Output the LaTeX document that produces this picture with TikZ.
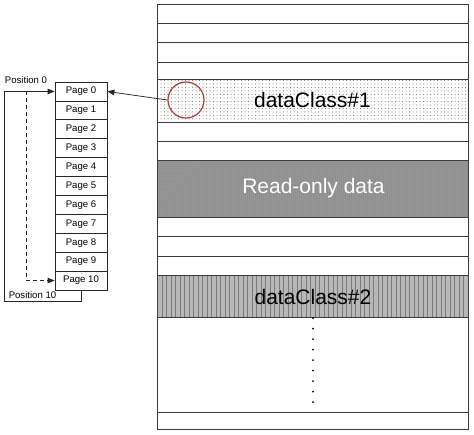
\documentclass[tikz,border=0pt]{standalone}
\usepackage{fontspec}
\setmainfont{Liberation Sans}
\usetikzlibrary{arrows.meta,patterns.meta}
\definecolor{circred}{RGB}{178,60,60}
\definecolor{linegray}{RGB}{60,60,60}
\begin{document}
\begin{tikzpicture}[x=1pt,y=-1pt,
  page/.style={draw=black!85, line width=0.75pt, minimum width=52pt, minimum height=18.9pt, inner sep=0pt, font=\fontsize{9.6}{11}\selectfont},
  rowbox/.style={draw=linegray, line width=0.85pt, minimum width=311pt, inner sep=0pt},
  big/.style={font=\fontsize{21}{25}\selectfont},
  lbl/.style={font=\fontsize{9.6}{11}\selectfont, inner sep=0pt},
  arr/.style={-{Triangle[length=7pt,width=5.5pt]}, line width=0.75pt, draw=black!85},
  dotfill/.style={preaction={fill=white}, pattern={Dots[distance=3.5pt,radius=0.5pt]}, pattern color=black!60},
  rofill/.style={preaction={fill=black!45}, pattern={Dots[distance=2pt,radius=0.5pt]}, pattern color=black!25},
  vlfill/.style={preaction={fill=black!28}, pattern={Lines[angle=90,distance=4.5pt,line width=0.7pt]}, pattern color=black!52}
]
\useasboundingbox (0,0) rectangle (474,434);
% memory column
\foreach \a/\b [count=\i] in {4/23,23/42,42/62,62/79,122/141,141/160,217/236,236/256,256/275,317/412,412/429}
  \node[rowbox, minimum height={\b-\a}] (r\i) at (312.5,{(\a+\b)/2}) {};
\node[rowbox, dotfill, minimum height=43pt] (dc1) at (312.5,100.5) {};
\node[rowbox, rofill, minimum height=57pt] (ro) at (312.5,188.5) {};
\node[rowbox, vlfill, minimum height=42pt] (dc2) at (312.5,296) {};
\node[big] (t1) at (312.5,100) {dataClass\#1};
\node[big, text=white] (t2) at (313.5,188) {Read-only data};
\node[big] (t3) at (313,297) {dataClass\#2};
% dots
\foreach \k in {0,...,8}
  \fill (313,{318+10.5*\k}) circle (1pt);
% circle
\node[draw=circred, line width=1.2pt, circle, minimum size=36pt, inner sep=0pt] (cir) at (186,100) {};
% pages
\foreach \i in {0,...,10}
  \node[page] (p\i) at (81,{82+18.909*(\i+0.5)}) {Page \i};
\draw[arr] (cir.west) -- (p0.east);
% loop
\coordinate (cbl) at (4,301);
\coordinate (dtop) at (26,91.45);
\draw[arr] (p10.south) |- (cbl) |- (p0.west);
\draw[arr, dashed, dash pattern=on 4pt off 3pt] (dtop) |- (p10.west);
\node[lbl] (pos0) at (26,80.5) {Position 0};
\node[lbl] (pos10) at (32.5,295.5) {Position 10};
\end{tikzpicture}
\end{document}
